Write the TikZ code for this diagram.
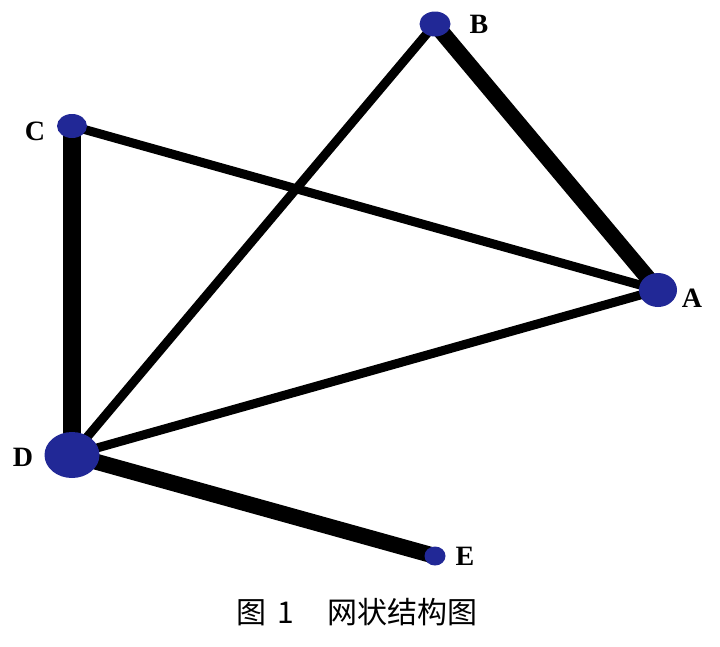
\documentclass[tikz,border=0pt]{standalone}
\usepackage{fontspec}
\setmainfont{Liberation Serif}
\newfontfamily\cjkfont{Noto Sans CJK SC}
\usetikzlibrary{shapes.geometric}
\usetikzlibrary{positioning}
\usetikzlibrary{backgrounds}
\definecolor{vertexblue}{RGB}{33,40,150}

\begin{document}
\begin{tikzpicture}[x=1pt,y=-1pt,
    vertex/.style={ellipse, fill=vertexblue, inner sep=0pt},
    tag/.style={font=\fontsize{28}{28}\selectfont\bfseries, inner sep=0pt},
    link/.style={line width=9pt},
    heavy/.style={line width=16pt}]
        \useasboundingbox (0,0) rectangle (720,646);
        \node [vertex, minimum width=38pt, minimum height=34pt] (A) at (658,290) {};
        \node [vertex, minimum width=31pt, minimum height=25pt] (B) at (435,24)  {};
        \node [vertex, minimum width=30pt, minimum height=24pt] (C) at (72,126)  {};
        \node [vertex, minimum width=55pt, minimum height=46pt] (D) at (72,455)  {};
        \node [vertex, minimum width=21pt, minimum height=19pt] (E) at (435,556) {};

        \node [tag] (labA) at (692,298) {A};
        \node [tag] (labB) at (479,24)  {B};
        \node [tag] (labC) at (35,131)  {C};
        \node [tag] (labD) at (23,457)  {D};
        \node [tag] (labE) at (465,556) {E};

        \node [font=\cjkfont\fontsize{30}{30}\selectfont, inner sep=0pt] (caption) at (357,612) {图\hspace{0.35em}1\hspace{1.1em}网状结构图};

        \begin{pgfonlayer}{background}
            \path[draw=black]
              (D.center) edge [heavy, line width=18pt] (C.center)
              (B.center) edge [heavy] (A.center)
              (D.center) edge [heavy] (E.center)
              (C.center) edge [link] (A.center)
              (D.center) edge [link] (B.center)
              (D.center) edge [link] (A.center)
              ;
        \end{pgfonlayer}
\end{tikzpicture}
\end{document}
